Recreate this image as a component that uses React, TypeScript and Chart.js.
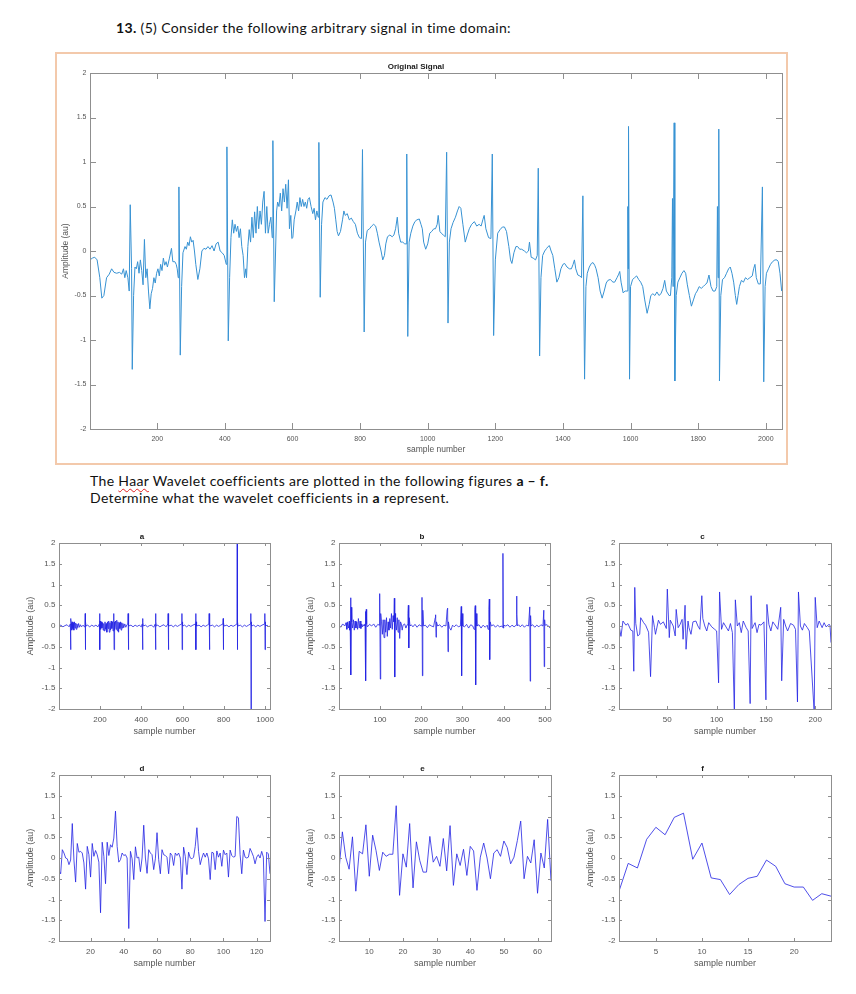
import React, { useEffect, useRef } from "react";
import { Chart, registerables } from "chart.js";
Chart.register(...registerables);

// ---------------- DATA ----------------
const yTickValues = [-2, -1.5, -1, -0.5, 0, 0.5, 1, 1.5, 2];
const mainXTicks = [200, 400, 600, 800, 1000, 1200, 1400, 1600, 1800, 2000];
const aXTicks = [200, 400, 600, 800, 1000];
const bXTicks = [100, 200, 300, 400, 500];
const cXTicks = [50, 100, 150, 200];
const dXTicks = [20, 40, 60, 80, 100, 120];
const eXTicks = [10, 20, 30, 40, 50, 60];
const fXTicks = [5, 10, 15, 20];

const mainSample = [
  1, 8, 15, 22, 30, 36, 42, 50, 58, 65, 72, 80, 88, 95, 100, 104, 108, 113, 117, 120, 124, 126, 130, 134, 138, 142, 146, 150, 154, 158, 162, 166, 170, 174, 178, 182, 186, 190, 194, 198,
  202, 206, 210, 214, 218, 222, 226, 230, 236, 242, 246, 252, 256, 259, 262, 264, 268, 272, 276, 282, 286, 290, 294, 298, 302, 306, 310, 314, 320, 326, 332, 338, 344, 350, 356, 362, 368, 374, 380, 386,
  392, 398, 404, 406, 410, 414, 418, 422, 426, 430, 434, 438, 442, 446, 450, 454, 458, 462, 464, 468, 472, 476, 480, 484, 488, 492, 496, 500, 504, 508, 512, 516, 520, 524, 528, 532, 536, 540, 542, 546,
  550, 553, 556, 560, 564, 568, 572, 576, 580, 584, 588, 591, 595, 598, 601, 605, 610, 614, 618, 622, 626, 630, 634, 638, 642, 646, 650, 655, 660, 664, 668, 672, 676, 678, 682, 686, 690, 696, 702, 708,
  714, 720, 724, 728, 732, 736, 742, 748, 752, 756, 762, 768, 774, 780, 786, 792, 798, 804, 807, 812, 816, 821, 828, 834, 840, 846, 851, 856, 862, 867, 872, 876, 881, 888, 895, 900, 905, 910, 914, 920,
  926, 932, 936, 938, 941, 945, 950, 956, 962, 968, 975, 980, 984, 988, 994, 1000, 1006, 1012, 1018, 1023, 1028, 1031, 1036, 1040, 1046, 1052, 1056, 1060, 1064, 1069, 1075, 1082, 1088, 1093, 1098, 1104, 1111, 1117, 1123, 1130,
  1138, 1145, 1152, 1158, 1163, 1167, 1172, 1180, 1187, 1191, 1195, 1200, 1207, 1214, 1221, 1227, 1233, 1240, 1245, 1249, 1255, 1261, 1266, 1272, 1278, 1286, 1292, 1298, 1301, 1306, 1312, 1319, 1324, 1327, 1331, 1335, 1340, 1346, 1352, 1356,
  1360, 1365, 1370, 1376, 1382, 1388, 1394, 1400, 1405, 1412, 1419, 1425, 1430, 1434, 1438, 1444, 1450, 1455, 1459, 1464, 1468, 1472, 1478, 1484, 1489, 1494, 1498, 1504, 1510, 1516, 1522, 1528, 1533, 1540, 1548, 1553, 1560, 1565, 1568, 1572,
  1578, 1584, 1590, 1592, 1593, 1594, 1597, 1600, 1606, 1612, 1618, 1624, 1630, 1636, 1642, 1649, 1655, 1660, 1666, 1672, 1678, 1684, 1690, 1696, 1701, 1706, 1714, 1718, 1722, 1724, 1726, 1729, 1731, 1735, 1740, 1746, 1752, 1758, 1763, 1768,
  1774, 1780, 1786, 1792, 1797, 1803, 1809, 1815, 1820, 1826, 1832, 1838, 1844, 1850, 1855, 1857, 1859, 1861, 1863, 1867, 1872, 1878, 1884, 1890, 1895, 1900, 1905, 1910, 1914, 1918, 1922, 1928, 1934, 1940, 1946, 1953, 1960, 1964, 1968, 1972,
  1978, 1984, 1990, 1994, 1998, 2002, 2008, 2014, 2020, 2027, 2033, 2037, 2042, 2047,
];
const mainAmp = [
  -0.1, -0.08, -0.07, -0.1, -0.3, -0.53, -0.5, -0.3, -0.26, -0.2, -0.24, -0.25, -0.24, -0.26, -0.2, -0.3, -0.22, -0.3, -0.45, 0.52, -0.2, -1.33, -0.5, -0.18, -0.2, -0.12, -0.25, -0.1, -0.22, -0.38, 0.13, -0.3, -0.2, -0.45, -0.65, -0.48, -0.42, -0.3, -0.36, -0.25,
  -0.2, -0.28, -0.15, -0.22, -0.08, -0.16, -0.12, -0.18, -0.08, 0.03, -0.12, -0.12, -0.15, -0.2, -0.3, 0.72, -1.17, -0.4, -0.02, 0.05, 0.02, 0.1, 0.06, 0.16, 0.1, 0.12, 0.0, -0.15, -0.32, -0.2, 0.0, 0.03, 0.02, 0.05, 0.02, 0.06, 0.0, 0.08, 0.1, 0.0,
  -0.02, -0.05, -0.15, 1.17, -1.01, -0.3, 0.15, 0.35, 0.2, 0.3, 0.22, 0.28, 0.15, 0.25, 0.05, -0.05, -0.3, -0.2, -0.3, 0.05, 0.24, 0.1, 0.38, 0.15, 0.44, 0.2, 0.5, 0.25, 0.45, 0.3, 0.55, 0.67, 0.2, 0.5, 0.2, 0.3, 0.38, 0.15, 1.24, -0.57,
  0.0, 0.45, 0.55, 0.5, 0.65, 0.45, 0.7, 0.55, 0.75, 0.48, 0.8, 0.25, 0.4, 0.14, 0.15, 0.35, 0.45, 0.55, 0.45, 0.6, 0.5, 0.58, 0.5, 0.55, 0.48, 0.58, 0.6, 0.5, 0.42, 0.48, 0.35, 0.45, 0.38, 1.22, -0.52, 0.3, 0.55, 0.6, 0.58, 0.62,
  0.63, 0.55, 0.48, 0.35, 0.22, 0.17, 0.22, 0.35, 0.45, 0.4, 0.42, 0.35, 0.37, 0.33, 0.3, 0.2, 0.15, 0.14, 1.14, -0.91, 0.1, 0.23, 0.25, 0.28, 0.3, 0.28, 0.2, 0.1, 0.0, -0.1, -0.05, 0.08, 0.16, 0.18, 0.16, 0.18, 0.25, 0.38, 0.2, 0.1,
  0.1, 0.08, 0.08, 1.09, -0.96, 0.1, 0.2, 0.28, 0.33, 0.35, 0.36, 0.3, 0.25, 0.1, 0.02, 0.08, 0.2, 0.22, 0.25, 0.25, 0.3, 0.4, 0.22, 0.2, 0.18, 0.16, 1.11, -0.81, 0.1, 0.25, 0.32, 0.38, 0.45, 0.5, 0.48, 0.3, 0.1, 0.18, 0.25, 0.3,
  0.33, 0.28, 0.3, 0.28, 0.35, 0.4, 0.25, 0.15, 0.14, 1.09, -0.95, -0.1, 0.2, 0.24, 0.27, 0.27, 0.22, 0.05, -0.1, -0.14, -0.02, 0.05, 0.05, 0.02, 0.02, 0.0, -0.02, 0.0, 0.1, -0.07, -0.08, -0.1, -0.05, 0.93, -1.18, -0.3, -0.05, 0.0, 0.03, 0.05,
  0.06, 0.0, -0.05, -0.2, -0.35, -0.3, -0.2, -0.15, -0.14, -0.18, -0.2, -0.2, -0.15, -0.1, -0.2, -0.27, -0.28, -0.3, 0.62, -1.44, -0.4, -0.25, -0.18, -0.14, -0.13, -0.16, -0.2, -0.3, -0.45, -0.53, -0.45, -0.36, -0.33, -0.32, -0.35, -0.35, -0.3, -0.26, -0.23, -0.35,
  -0.47, -0.45, -0.45, 0.5, -0.2, 1.4, -1.44, -0.4, -0.32, -0.3, -0.28, -0.32, -0.35, -0.4, -0.55, -0.7, -0.6, -0.5, -0.48, -0.5, -0.46, -0.5, -0.48, -0.42, -0.33, -0.45, -0.5, -0.5, -0.3, 0.59, -0.4, 1.44, -1.46, -0.5, -0.35, -0.3, -0.25, -0.22, -0.25, -0.38,
  -0.5, -0.62, -0.55, -0.48, -0.45, -0.4, -0.42, -0.4, -0.38, -0.36, -0.27, -0.4, -0.45, -0.45, -0.4, 0.5, -0.3, 1.37, -1.46, -0.5, -0.32, -0.3, -0.25, -0.2, -0.18, -0.25, -0.35, -0.5, -0.6, -0.5, -0.4, -0.33, -0.35, -0.3, -0.32, -0.3, -0.28, -0.2, -0.15, -0.3,
  -0.37, -0.37, 0.72, -1.47, -0.4, -0.25, -0.2, -0.15, -0.12, -0.1, -0.1, -0.12, -0.25, -0.45,
];

const aSample = [
  1, 10, 20, 30, 40, 50, 56, 57, 58, 59, 61, 63, 65, 68, 70, 73, 76, 79, 82, 85, 88, 92, 96, 100, 105, 110, 118, 124, 127, 128, 129, 130, 132, 140, 150, 160, 170, 180, 190, 197,
  198, 199, 200, 203, 206, 209, 212, 215, 218, 221, 224, 227, 230, 233, 236, 239, 242, 245, 248, 251, 254, 257, 260, 263, 266, 267, 268, 269, 272, 275, 278, 281, 284, 287, 290, 293, 296, 299, 302, 305,
  308, 311, 315, 320, 325, 330, 335, 336, 337, 338, 340, 350, 360, 370, 380, 390, 400, 405, 406, 407, 408, 410, 420, 430, 440, 450, 460, 468, 469, 470, 471, 473, 480, 490, 500, 510, 520, 529, 530, 531,
  532, 534, 545, 555, 565, 575, 585, 596, 597, 598, 599, 601, 610, 620, 630, 640, 650, 663, 664, 665, 666, 668, 680, 690, 700, 710, 720, 728, 729, 730, 731, 733, 745, 755, 765, 775, 785, 796, 797, 798,
  799, 801, 815, 825, 835, 845, 855, 864, 865, 866, 867, 869, 880, 890, 900, 910, 920, 930, 931, 932, 933, 935, 945, 955, 965, 975, 985, 998, 999, 1000, 1001, 1003, 1010, 1018, 1024,
];
const aAmp = [
  0.0, 0.02, -0.02, 0.01, 0.03, -0.02, 0.05, 0.18, -0.57, 0.15, 0.08, -0.1, 0.1, -0.06, 0.08, -0.1, 0.1, -0.05, 0.07, -0.08, 0.05, -0.04, 0.06, -0.03, 0.03, -0.02, 0.02, -0.02, 0.05, 0.3, -0.57, 0.1, 0.0, 0.02, -0.02, 0.02, -0.01, 0.02, -0.02, 0.05,
  0.3, -0.57, 0.12, -0.08, 0.1, -0.05, 0.08, -0.1, 0.06, -0.12, 0.1, -0.08, 0.06, -0.15, 0.1, -0.06, 0.12, -0.15, 0.08, -0.1, 0.12, -0.06, 0.1, -0.12, 0.15, 0.3, -0.57, 0.1, -0.1, 0.12, -0.08, 0.14, -0.12, 0.1, -0.15, 0.08, -0.06, 0.1, -0.1, 0.08,
  -0.05, 0.06, -0.04, 0.05, -0.03, 0.03, 0.05, 0.3, -0.57, 0.1, 0.0, 0.02, -0.02, 0.02, -0.01, 0.02, -0.02, 0.05, 0.18, -0.57, 0.08, 0.0, 0.02, -0.02, 0.01, 0.02, -0.03, 0.05, 0.3, -0.57, 0.1, 0.0, 0.02, -0.02, 0.01, 0.03, -0.02, 0.05, 0.3, -0.57,
  0.1, 0.0, 0.02, -0.02, 0.02, -0.01, 0.02, 0.05, 0.3, -0.57, 0.1, 0.0, 0.02, -0.02, 0.02, -0.01, 0.02, 0.05, 0.3, -0.57, 0.1, 0.0, 0.02, -0.02, 0.02, -0.01, 0.02, 0.05, 0.3, -0.57, 0.1, 0.0, 0.02, -0.02, 0.02, -0.01, 0.02, 0.05, 0.18, -0.57,
  0.08, 0.0, 0.02, -0.02, 0.02, -0.01, 0.02, 0.05, 2.6, -0.57, 0.1, 0.0, 0.02, -0.02, 0.02, -0.01, 0.02, 0.05, 0.3, -2.6, 0.1, 0.0, 0.02, -0.02, 0.02, -0.01, 0.02, 0.05, 0.3, -0.57, 0.1, 0.0, 0.02, -0.02, 0.01,
];

const bSample = [
  1, 5, 10, 15, 18, 20, 22, 24, 26, 27, 28, 29, 30, 31, 32, 34, 36, 38, 40, 42, 44, 46, 48, 50, 52, 54, 56, 58, 60, 62, 64, 65, 66, 67, 68, 70, 75, 80, 85, 90,
  95, 98, 99, 100, 101, 102, 104, 106, 108, 110, 112, 114, 116, 118, 120, 122, 124, 126, 128, 130, 132, 134, 135, 136, 137, 138, 140, 142, 144, 146, 148, 150, 152, 154, 156, 160, 163, 166, 168, 169,
  170, 171, 173, 176, 180, 185, 190, 195, 200, 202, 203, 204, 206, 210, 215, 220, 225, 230, 234, 235, 236, 237, 240, 245, 250, 255, 260, 263, 264, 265, 266, 268, 272, 276, 280, 285, 290, 295, 297, 298,
  299, 301, 305, 310, 315, 320, 325, 328, 330, 331, 332, 333, 335, 340, 345, 350, 355, 360, 362, 364, 365, 366, 367, 370, 375, 380, 385, 390, 395, 397, 398, 399, 400, 405, 410, 415, 420, 425, 430, 431,
  432, 433, 436, 440, 445, 450, 455, 460, 463, 464, 465, 466, 470, 475, 480, 485, 490, 495, 497, 498, 499, 500, 505, 510, 512,
];
const bAmp = [
  0.02, -0.03, 0.05, 0.0, 0.08, -0.08, 0.1, -0.05, 0.12, -0.1, 0.08, 0.68, -1.18, 0.45, 0.1, -0.05, 0.15, -0.1, 0.12, -0.05, 0.1, -0.08, 0.18, -0.05, 0.12, -0.06, 0.05, -0.02, 0.03, 0.0, 0.05, 0.35, -1.32, 0.4, 0.05, -0.02, 0.04, 0.0, 0.05, -0.03,
  0.04, 0.02, 0.5, 0.78, -1.28, 0.3, 0.1, -0.2, 0.15, -0.28, 0.15, -0.15, 0.2, -0.25, 0.1, -0.1, 0.18, -0.05, 0.3, -0.08, 0.25, 0.1, 0.67, -1.23, 0.3, 0.1, -0.1, 0.2, -0.15, 0.15, -0.3, 0.1, 0.05, -0.1, 0.02, 0.05, -0.05, 0.03, 0.3, 0.5,
  -0.53, 0.2, 0.0, 0.03, -0.02, 0.04, -0.03, 0.03, 0.0, 0.69, -1.2, 0.38, 0.0, 0.02, -0.04, 0.03, 0.0, -0.02, 0.2, 0.27, -0.27, 0.1, 0.0, 0.03, -0.03, 0.02, 0.0, 0.4, 0.43, -0.62, 0.1, -0.03, -0.1, 0.02, -0.02, 0.03, -0.02, 0.0, 0.47, -1.2,
  0.3, 0.0, -0.02, 0.04, -0.05, 0.03, 0.0, -0.08, 0.4, 0.49, -1.42, 0.3, 0.0, 0.03, -0.05, 0.02, -0.03, 0.02, -0.08, 0.4, 0.65, -0.81, 0.1, 0.0, 0.03, -0.03, 0.02, -0.02, 0.0, -0.03, 1.75, -0.05, 0.02, 0.0, 0.03, -0.03, 0.02, -0.02, 0.02, 0.72,
  0.28, 0.0, 0.03, -0.02, 0.03, -0.03, 0.02, 0.0, 0.46, -1.33, 0.25, 0.0, 0.03, -0.03, 0.02, -0.02, 0.03, 0.0, 0.38, -0.98, 0.15, 0.02, 0.03, -0.02, -0.05,
];

const cSample = [
  1, 3, 5, 8, 10, 13, 15, 16, 17, 18, 20, 22, 23, 26, 28, 31, 33, 35, 37, 38, 41, 43, 46, 49, 50, 52, 53, 56, 58, 59, 61, 63, 65, 66, 68, 69, 71, 72, 74, 76,
  79, 81, 83, 85, 86, 88, 90, 92, 95, 98, 100, 102, 103, 105, 107, 109, 112, 114, 116, 118, 119, 121, 123, 125, 127, 130, 132, 134, 135, 136, 139, 141, 143, 145, 148, 150, 151, 153, 155, 157,
  160, 162, 165, 166, 168, 170, 172, 175, 178, 180, 182, 183, 185, 187, 189, 192, 194, 199, 200, 202, 204, 207, 209, 211, 214, 215, 216,
];
const cAmp = [
  0.02, -0.25, 0.12, 0.02, 0.06, -0.1, -0.12, -1.09, 0.93, 0.06, -0.24, -0.2, 0.2, 0.08, 0.02, -0.15, -1.22, 0.25, -0.04, -0.2, 0.14, 0.04, 0.1, -0.06, 0.89, -0.28, 0.14, 0.0, -0.24, 0.4, -0.04, 0.04, 0.16, -0.32, 0.5, -0.56, 0.12, -0.04, -0.2, 0.1,
  0.12, 0.0, -0.08, 0.73, 0.18, 0.0, -0.12, 0.08, -0.02, -0.08, -0.12, -1.37, 0.82, -0.08, 0.08, 0.0, -0.12, 0.06, -0.16, -2.1, 0.63, 0.0, 0.08, -0.16, 0.12, -0.04, -0.12, -1.87, 0.73, -0.06, 0.08, -0.16, 0.04, 0.02, 0.1, -1.78, 0.52, 0.04, -0.12, 0.1,
  0.0, -0.08, 0.45, -1.32, 0.16, 0.0, -0.12, 0.06, 0.02, -0.08, -1.83, 0.82, 0.0, -0.1, 0.06, -0.04, -0.12, -2.1, 0.69, -0.04, 0.12, -0.04, 0.08, -0.02, 0.04, 0.02, -0.4,
];

const dAmp = [
  -0.3, -0.38, 0.2, 0.12, 0.0, -0.02, -0.16, -0.05, 0.83, -0.05, -0.58, 0.35, 0.14, 0.16, 0.12, -0.12, -0.75, 0.28, 0.08, -0.46,
  0.35, 0.04, 0.18, 0.08, -0.1, -1.32, 0.38, 0.04, -0.62, 0.38, 0.06, 0.32, 0.26, 0.48, 1.13, 0.28, -0.1, -0.04, 0.12, 0.06,
  0.08, 0.0, -1.7, 0.16, -0.02, -0.52, 0.27, 0.0, 0.02, -0.33, 0.0, 0.79, 0.0, -0.37, 0.2, 0.12, 0.08, -0.28, -0.02, 0.61,
  -0.04, -0.38, 0.2, 0.08, 0.06, 0.02, -0.38, 0.12, 0.06, -0.18, 0.12, 0.06, 0.12, 0.0, -0.75, 0.26, 0.04, -0.4, 0.14, 0.0,
  -0.02, 0.02, 0.28, 0.73, 0.16, -0.16, 0.0, 0.12, 0.02, 0.12, -0.02, -0.52, 0.14, 0.12, -0.28, 0.17, 0.02, 0.12, -0.2, 0.19,
  0.08, 0.12, -0.46, 0.19, 0.06, 0.02, 0.04, 1.0, 0.97, 0.08, -0.38, 0.19, 0.02, 0.0, 0.02, 0.23, 0.14, 0.04, -0.14, 0.02,
  0.08, 0.0, 0.16, 0.02, -1.53, 0.14, 0.1, -0.38,
];

const eAmp = [
  -0.3, 0.63, 0.02, -0.27, 0.51, -0.8, 0.16, 0.1, 0.8, -0.44, 0.55, 0.18, -0.3, 0.14, 0.04, 0.09, 0.09, 1.26, -0.9, 0.1,
  -0.22, 0.83, -0.72, 0.39, -0.06, -0.34, -0.34, 0.52, -0.1, 0.04, -0.2, 0.47, -0.31, 0.78, -0.66, 0.1, -0.18, 0.21, -0.42, 0.28,
  0.17, -0.78, 0.02, 0.36, 0.0, -0.5, 0.12, 0.2, 0.04, 0.41, 0.25, -0.14, 0.02, 0.42, 0.89, -0.5, 0.04, -0.12, 0.44, -0.85,
  0.12, -0.24, 0.93, -0.55,
];

const fAmp = [
  -0.8, -0.13, -0.24, 0.45, 0.74, 0.56, 0.98, 1.08, -0.03, 0.36, -0.48, -0.52, -0.88, -0.64, -0.49, -0.44, -0.05, -0.2, -0.62, -0.7,
  -0.7, -1.02, -0.86, -0.92,
];

// ---------------- CHART HELPERS ----------------
const FONT = "'Liberation Sans', Arial, Helvetica, sans-serif";

type Spec = {
  xs: number[];
  ys: number[];
  title: string;
  xMin: number;
  xMax: number;
  xTicks: number[];
  l: number; t: number; r: number; b: number;
  color: string;
  tickFont: number;
  labelFont: number;
  titleFont: number;
  tickLen: number;
  yAxisW: number;
  xAxisH: number;
  titleH: number;
  titleGap: number;
  yTickPad: number;
  xTickPad: number;
  yTitlePad: number;
  xTitlePad: number;
};

const RIGHT_PAD = 12;

function framePlugin(tickLen: number) {
  return {
    id: "matlabFrame",
    afterDatasetsDraw(chart: any) {
      const { ctx, chartArea } = chart;
      const { left, right, top, bottom } = chartArea;
      const xs = chart.scales.x;
      const ys = chart.scales.y;
      ctx.save();
      ctx.strokeStyle = "#8f8f8f";
      ctx.lineWidth = 1;
      ctx.beginPath();
      xs.ticks.forEach((tk: any) => {
        const px = Math.round(xs.getPixelForValue(tk.value)) + 0.5;
        ctx.moveTo(px, bottom);
        ctx.lineTo(px, bottom - tickLen);
        ctx.moveTo(px, top);
        ctx.lineTo(px, top + tickLen);
      });
      ys.ticks.forEach((tk: any) => {
        const py = Math.round(ys.getPixelForValue(tk.value)) + 0.5;
        ctx.moveTo(left, py);
        ctx.lineTo(left + tickLen, py);
        ctx.moveTo(right, py);
        ctx.lineTo(right - tickLen, py);
      });
      ctx.stroke();
      ctx.strokeRect(Math.round(left) + 0.5, Math.round(top) + 0.5, Math.round(right - left), Math.round(bottom - top));
      ctx.restore();
    },
  };
}

function Panel({ spec }: { spec: Spec }) {
  const ref = useRef<HTMLCanvasElement | null>(null);
  const width = spec.yAxisW + (spec.r - spec.l) + RIGHT_PAD;
  const height = spec.titleH + (spec.b - spec.t) + spec.xAxisH;
  useEffect(() => {
    if (!ref.current) return;
    const points = spec.xs.map((x, i) => ({ x, y: spec.ys[i] }));
    const chart = new Chart(ref.current, {
      type: "line",
      data: {
        datasets: [
          {
            data: points,
            borderColor: spec.color,
            borderWidth: 1,
            pointRadius: 0,
            tension: 0,
            fill: false,
          },
        ],
      },
      options: {
        animation: false,
        responsive: false,
        devicePixelRatio: 1,
        layout: { padding: { left: 0, right: RIGHT_PAD, top: 0, bottom: 0 } },
        plugins: {
          legend: { display: false },
          tooltip: { enabled: false },
          title: {
            display: true,
            text: spec.title,
            color: "#1a1a1a",
            font: { family: FONT, size: spec.titleFont, weight: "bold", lineHeight: 1 },
            padding: { top: spec.titleH - spec.titleFont - spec.titleGap, bottom: spec.titleGap },
          },
        },
        scales: {
          x: {
            type: "linear",
            min: spec.xMin,
            max: spec.xMax,
            afterBuildTicks: (s: any) => {
              s.ticks = spec.xTicks.map((v) => ({ value: v }));
            },
            afterFit: (s: any) => {
              s.height = spec.xAxisH;
            },
            grid: { display: false, drawTicks: false },
            border: { display: false },
            ticks: {
              autoSkip: false,
              maxRotation: 0,
              padding: spec.xTickPad,
              color: "#555",
              font: { family: FONT, size: spec.tickFont, lineHeight: 1 },
              callback: (v: any) => String(v),
            },
            title: {
              display: true,
              text: "sample number",
              color: "#555",
              font: { family: FONT, size: spec.labelFont, lineHeight: 1 },
              padding: { top: 0, bottom: spec.xTitlePad },
            },
          },
          y: {
            type: "linear",
            min: -2,
            max: 2,
            afterBuildTicks: (s: any) => {
              s.ticks = yTickValues.map((v) => ({ value: v }));
            },
            afterFit: (s: any) => {
              s.width = spec.yAxisW;
            },
            grid: { display: false, drawTicks: false },
            border: { display: false },
            ticks: {
              autoSkip: false,
              padding: spec.yTickPad,
              color: "#555",
              font: { family: FONT, size: spec.tickFont, lineHeight: 1 },
              callback: (v: any) => String(v),
            },
            title: {
              display: true,
              text: "Amplitude (au)",
              color: "#555",
              font: { family: FONT, size: spec.labelFont, lineHeight: 1 },
              padding: { top: spec.yTitlePad, bottom: 0 },
            },
          },
        },
      } as any,
      plugins: [framePlugin(spec.tickLen)],
    });
    return () => chart.destroy();
  }, [spec]);
  return (
    <canvas
      ref={ref}
      width={width}
      height={height}
      style={{ position: "absolute", left: spec.l - spec.yAxisW, top: spec.t - spec.titleH, width, height }}
    />
  );
}

const seq = (arr: number[]) => arr.map((_, i) => i + 1);

const MAIN_BLUE = "#3792d3";
const SUB_BLUE = "rgba(35,35,228,0.8)";

const mainSpec: Spec = {
  xs: mainSample, ys: mainAmp, title: "Original Signal", xMin: 1, xMax: 2048, xTicks: mainXTicks,
  l: 90, t: 73, r: 782, b: 429, color: MAIN_BLUE,
  tickFont: 7, labelFont: 8.5, titleFont: 8, tickLen: 6,
  yAxisW: 40, xAxisH: 28, titleH: 20, titleGap: 2.6,
  yTickPad: 3.5, xTickPad: 6.5, yTitlePad: 11.5, xTitlePad: 3,
};

function sub(xs: number[], ys: number[], title: string, xMax: number, xTicks: number[], l: number, r: number, t: number, b: number): Spec {
  return {
    xs, ys, title, xMin: 1, xMax, xTicks, l, t, r, b, color: SUB_BLUE,
    tickFont: 8, labelFont: 9, titleFont: 8, tickLen: 3,
    yAxisW: 45, xAxisH: 30, titleH: 20, titleGap: 2.5,
    yTickPad: 3.6, xTickPad: 7, yTitlePad: 12.2, xTitlePad: 3,
  };
}

const specs: Spec[] = [
  sub(aSample, aAmp, "a", 1024, aXTicks, 59, 270, 543, 709),
  sub(bSample, bAmp, "b", 512, bXTicks, 339, 550, 543, 709),
  sub(cSample, cAmp, "c", 216, cXTicks, 619, 831, 543, 709),
  sub(seq(dAmp), dAmp, "d", 128, dXTicks, 59, 270, 775, 941),
  sub(seq(eAmp), eAmp, "e", 64, eXTicks, 339, 551, 775, 941),
  sub(seq(fAmp), fAmp, "f", 24, fXTicks, 619, 831, 775, 941),
];

const DOC_FONT = "Lato, 'Open Sans', sans-serif";

export default function App() {
  return (
    <div style={{ position: "absolute", left: 0, top: 0, width: 856, height: 994, background: "#fff", overflow: "hidden" }}>
      <div
        style={{
          position: "absolute", left: 116, top: 20, lineHeight: "16px", fontSize: 14,
          fontFamily: DOC_FONT, color: "#111", whiteSpace: "nowrap", letterSpacing: 0.35,
        }}
      >
        <b>13.</b> (5) Consider the following arbitrary signal in time domain:
      </div>
      <div
        style={{
          position: "absolute", left: 55, top: 52, width: 733, height: 413, boxSizing: "border-box",
          border: "2px solid #f3c9ab",
        }}
      />
      <Panel spec={mainSpec} />
      <div
        style={{
          position: "absolute", left: 90, top: 472, lineHeight: "17px", fontSize: 14,
          fontFamily: DOC_FONT, color: "#111", whiteSpace: "nowrap", letterSpacing: 0.35,
        }}
      >
        <div>
          The{" "}
          <span style={{ textDecoration: "underline wavy #e02020", textDecorationThickness: 1, textUnderlineOffset: 2 }}>Haar</span>{" "}
          Wavelet coefficients are plotted in the following figures <b>a – f.</b>
        </div>
        <div>
          Determine what the wavelet coefficients in <b>a</b> represent.
        </div>
      </div>
      {specs.map((s, i) => (
        <Panel key={i} spec={s} />
      ))}
    </div>
  );
}
